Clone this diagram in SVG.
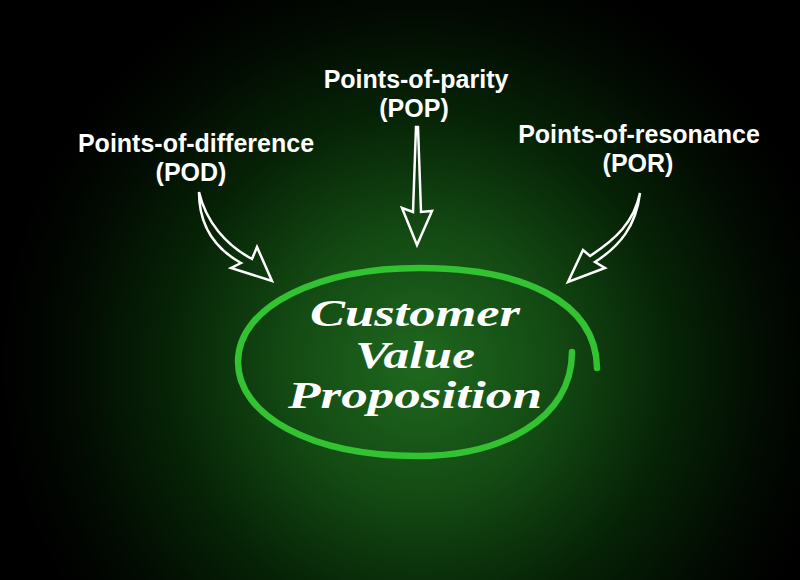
<svg xmlns="http://www.w3.org/2000/svg" width="800" height="580" viewBox="0 0 800 580">
  <defs>
    <radialGradient id="bg" cx="420" cy="365" r="420" gradientUnits="userSpaceOnUse">
      <stop offset="0" stop-color="#1f681f"/>
      <stop offset="0.3" stop-color="#144c14"/>
      <stop offset="0.6" stop-color="#062306"/>
      <stop offset="0.85" stop-color="#020902"/>
      <stop offset="1" stop-color="#000000"/>
    </radialGradient>
    <style>
      .lbl { font-family: "Liberation Sans", Arial, sans-serif; font-weight: bold; font-size: 25px; fill: #ffffff; text-anchor: middle; }
      .main { font-family: "Liberation Serif", "Times New Roman", serif; font-weight: bold; font-style: italic; font-size: 38px; fill: #ffffff; text-anchor: middle; }
      .arrow { fill: none; stroke: #ffffff; stroke-width: 2.5; stroke-linejoin: miter; }
      .ring { fill: none; stroke: #32c232; stroke-width: 6.5; stroke-linecap: round; }
    </style>
  </defs>
  <rect width="800" height="580" fill="url(#bg)"/>

  <g id="pod">
    <text class="lbl" x="196" y="152">Points-of-difference</text>
    <text class="lbl" x="191" y="181">(POD)</text>
  </g>
  <g id="pop">
    <text class="lbl" x="416" y="88">Points-of-parity</text>
    <text class="lbl" x="414" y="117">(POP)</text>
  </g>
  <g id="por">
    <text class="lbl" x="639" y="143">Points-of-resonance</text>
    <text class="lbl" x="638" y="172">(POR)</text>
  </g>

  <g id="connectors">
    <path class="arrow" d="M199,192 C206,222 226,245 252,259 L257,247 L272,281 L231,268 L241,263 C214,248 199,225 199,192 Z"/>
    <path class="arrow" d="M416,127 L413,212 L402,208 L417,245 L432,211 L421,212 L418,127 Z"/>
    <path class="arrow" d="M640,193 C636,226 620,246 595,262 L605,268 L568,282 L583,250 L590,256 C616,239 634,222 640,193 Z"/>
  </g>

  <g id="cvp">
    <path class="ring" d="M572,352 C572,420 500,456 418,456 C310,456 238,415 238,362 C238,305 320,268 420,268 C520,268 596,300 597,368"/>
    <text class="main" x="415" y="326" textLength="210" lengthAdjust="spacingAndGlyphs">Customer</text>
    <text class="main" x="415" y="368" textLength="120" lengthAdjust="spacingAndGlyphs">Value</text>
    <text class="main" x="415" y="408" textLength="254" lengthAdjust="spacingAndGlyphs">Proposition</text>
  </g>
</svg>
